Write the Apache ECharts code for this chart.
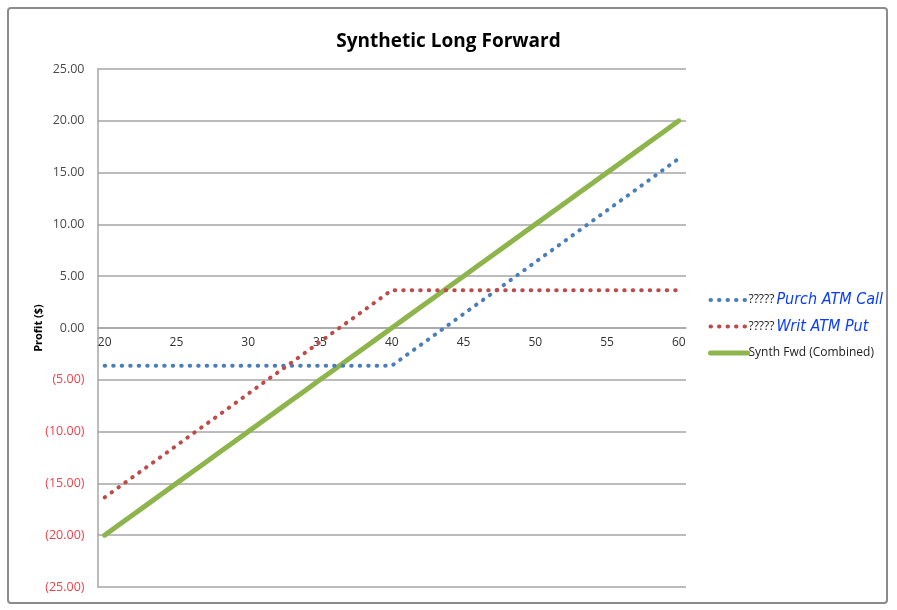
<!DOCTYPE html>
<html>
<head>
<meta charset="utf-8">
<script src="https://cdn.jsdelivr.net/npm/echarts@6/dist/echarts.min.js"></script>
<style>
  html, body { margin: 0; padding: 0; background: #fff; }
  #chart { width: 897px; height: 610px; }
</style>
</head>
<body>
<div id="chart"></div>
<script>
// stock price at expiry
var prices = ['20','21','22','23','24','25','26','27','28','29','30','31','32','33','34','35','36','37','38','39','40',
              '41','42','43','44','45','46','47','48','49','50','51','52','53','54','55','56','57','58','59','60'];

// long call, strike 40
var callProfit = [-3.65,-3.65,-3.65,-3.65,-3.65,-3.65,-3.65,-3.65,-3.65,-3.65,-3.65,-3.65,-3.65,-3.65,-3.65,-3.65,-3.65,-3.65,-3.65,-3.65,-3.65,
                  -2.65,-1.65,-0.65,0.35,1.35,2.35,3.35,4.35,5.35,6.35,7.35,8.35,9.35,10.35,11.35,12.35,13.35,14.35,15.35,16.35];

// short put, strike 40
var putProfit = [-16.35,-15.35,-14.35,-13.35,-12.35,-11.35,-10.35,-9.35,-8.35,-7.35,-6.35,-5.35,-4.35,-3.35,-2.35,-1.35,-0.35,0.65,1.65,2.65,3.65,
                 3.65,3.65,3.65,3.65,3.65,3.65,3.65,3.65,3.65,3.65,3.65,3.65,3.65,3.65,3.65,3.65,3.65,3.65,3.65,3.65];

// both together
var fwdProfit = [-20,-19,-18,-17,-16,-15,-14,-13,-12,-11,-10,-9,-8,-7,-6,-5,-4,-3,-2,-1,0,
                 1,2,3,4,5,6,7,8,9,10,11,12,13,14,15,16,17,18,19,20];

var handNotes = { call: 'Purch ATM Call', put: 'Writ ATM Put' };

var font = 'Open Sans, Liberation Sans, sans-serif';
var gridCol = '#a6a6a6';
var blue = '#4a7ebb', red = '#be4b48', green = '#8db54b';

function fmtProfit(v){
  var s = Math.abs(v).toFixed(2);
  return v < 0 ? '{neg|(' + s + ')}' : '{pos|' + s + '}';
}

var dotted = [0.5, 8];

var chart = echarts.init(document.getElementById('chart'));
var option = {
  animation: false,
  title: {
    text: 'Synthetic Long Forward',
    left: 'center', top: 27,
    textStyle: { fontFamily: font, fontWeight: 'bold', fontSize: 19, color: '#000' }
  },
  graphic: [{
    type: 'rect',
    shape: { x: 8, y: 8, width: 879, height: 595, r: 3 },
    style: { fill: 'none', stroke: '#8c8c8c', lineWidth: 2 },
    silent: true
  }],
  legend: {
    orient: 'vertical',
    left: 708, top: 292,
    padding: 0,
    itemWidth: 37, itemHeight: 20, itemGap: 10.5,
    itemStyle: { opacity: 0 },
    data: [
      { name: 'call', lineStyle: { color: blue, width: 4, type: dotted, cap: 'round' } },
      { name: 'put', lineStyle: { color: red, width: 4, type: dotted, cap: 'round' } },
      { name: 'fwd', lineStyle: { color: green, width: 5 } }
    ],
    formatter: function(name){
      if(handNotes[name]) return '{q|?????}{h|' + handNotes[name] + '}';
      return '{q|Synth Fwd (Combined)}';
    },
    textStyle: {
      padding: [0, 0, 0, -4],
      rich: {
        q: { fontFamily: font, fontSize: 12, color: '#222', verticalAlign: 'middle' },
        h: { fontFamily: 'Liberation Sans Narrow, DejaVu Sans Condensed, sans-serif', fontStyle: 'italic', fontSize: 16, color: '#0a3cff', verticalAlign: 'middle', padding: [0, 0, 0, 2] }
      }
    }
  },
  grid: { left: 97.5, right: 211, top: 69, bottom: 23 },
  xAxis: {
    type: 'category',
    data: prices,
    boundaryGap: true,
    position: 'bottom',
    axisLine: { onZero: false, lineStyle: { color: gridCol, width: 1.5 } },
    axisTick: { show: false },
    axisLabel: { interval: 4, margin: 9, fontFamily: font, fontSize: 12, color: '#333' },
    splitLine: { show: false }
  },
  yAxis: {
    type: 'value',
    min: -25, max: 25, interval: 5,
    name: 'Profit ($)',
    nameLocation: 'middle',
    nameGap: 53,
    nameMoveOverlap: false,
    nameTextStyle: { fontFamily: font, fontSize: 11, fontWeight: 'bold', color: '#000' },
    axisLine: { show: true, lineStyle: { color: gridCol, width: 1.5 } },
    axisTick: { show: false },
    axisLabel: {
      margin: 13,
      formatter: fmtProfit,
      rich: {
        pos: { fontFamily: font, fontSize: 12.5, color: '#4a4a4a' },
        neg: { fontFamily: font, fontSize: 12.5, color: '#f2404a' }
      }
    },
    splitLine: { lineStyle: { color: gridCol, width: 1.5 } }
  },
  series: [
    {
      name: 'call', type: 'line', data: callProfit,
      symbol: 'none',
      itemStyle: { color: blue },
      lineStyle: { color: blue, width: 4, type: dotted, cap: 'round' },
      z: 3
    },
    {
      name: 'put', type: 'line', data: putProfit,
      symbol: 'none',
      itemStyle: { color: red },
      lineStyle: { color: red, width: 4, type: dotted, cap: 'round' },
      z: 3
    },
    {
      name: 'fwd', type: 'line', data: fwdProfit,
      symbol: 'none',
      itemStyle: { color: green },
      lineStyle: { color: green, width: 5, cap: 'round' },
      z: 2
    }
  ]
};
chart.setOption(option);

// move the category axis up so it crosses the value axis at zero
var yZero = chart.convertToPixel({ yAxisIndex: 0 }, 0);
var yBottom = chart.convertToPixel({ yAxisIndex: 0 }, -25);
chart.setOption({ xAxis: { offset: -(yBottom - yZero) } });
</script>
</body>
</html>
